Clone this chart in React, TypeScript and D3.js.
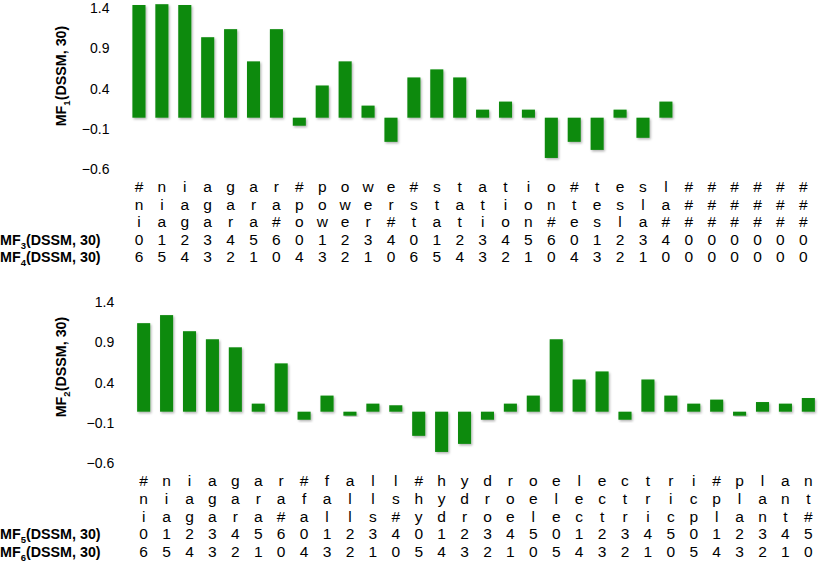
import React from 'react';
import * as d3 from 'd3';

const topTrigrams = ['#ni','nia','iag','aga','gar','ara','ra#','#po','pow','owe','wer','er#','#st','sta','tat','ati','tio','ion','on#','#te','tes','esl','sla','la#','###','###','###','###','###','###'];
const topIdxA = [0,1,2,3,4,5,6,0,1,2,3,4,0,1,2,3,4,5,6,0,1,2,3,4,0,0,0,0,0,0];
const topIdxB = [6,5,4,3,2,1,0,4,3,2,1,0,6,5,4,3,2,1,0,4,3,2,1,0,0,0,0,0,0,0];
const topValues: (number | null)[] = [1.40,1.41,1.40,1.00,1.10,0.70,1.10,-0.10,0.40,0.70,0.15,-0.30,0.50,0.60,0.50,0.10,0.20,0.10,-0.50,-0.30,-0.40,0.10,-0.25,0.20,null,null,null,null,null,null];

const bottomTrigrams = ['#ni','nia','iag','aga','gar','ara','ra#','#fa','fal','all','lls','ls#','#hy','hyd','ydr','dro','roe','oel','ele','lec','ect','ctr','tri','ric','icp','#pl','pla','lan','ant','nt#'];
const bottomIdxA = [0,1,2,3,4,5,6,0,1,2,3,4,0,1,2,3,4,5,0,1,2,3,4,5,0,1,2,3,4,5];
const bottomIdxB = [6,5,4,3,2,1,0,4,3,2,1,0,5,4,3,2,1,0,5,4,3,2,1,0,5,4,3,2,1,0];
const bottomValues: (number | null)[] = [1.10,1.20,1.00,0.90,0.80,0.10,0.60,-0.10,0.20,-0.05,0.10,0.08,-0.30,-0.50,-0.40,-0.10,0.10,0.20,0.90,0.40,0.50,-0.10,0.40,0.20,0.10,0.15,-0.05,0.12,0.10,0.17];

const yTicks = [1.4, 0.9, 0.4, -0.1, -0.6];
const yDomain: [number, number] = [-0.6, 1.4];

const FONT = '"Liberation Sans", Arial, sans-serif';
const BAR = '#0b8a0b';

function Panel({ trigrams, idxA, idxB, values, bandStart, bandEnd, yTop, yBottom, labelTop, rowGap, titleCenter, subs }: any) {
  const n = trigrams.length;
  const x = d3.scaleBand<number>().domain(d3.range(n)).range([bandStart, bandEnd]).paddingInner(0.43).paddingOuter(0.215);
  const y = d3.scaleLinear().domain(yDomain).range([yBottom, yTop]);
  const rowY = (r: number) => labelTop + r * rowGap;
  return (
    <g>
      {yTicks.map(t => (
        <text key={t} x={bandStart - 18} y={y(t) + 8} textAnchor="end" fontFamily={FONT} fontSize={14} fill="#000">{d3.format('.1f')(t)}</text>
      ))}
      <text transform={`translate(66,${titleCenter}) rotate(-90)`} textAnchor="middle" fontFamily={FONT} fontWeight={700} fontSize={14.3} fill="#000">
        MF<tspan fontSize={9.5} dy={4}>{subs[0]}</tspan><tspan dy={-4}>(DSSM, 30)</tspan>
      </text>
      {values.map((v: number | null, i: number) => v == null ? null : (
        <rect key={i} x={x(i)} width={x.bandwidth()} y={y(Math.max(0, v))} height={Math.abs(y(v) - y(0))} fill={BAR} filter="url(#shadow)" />
      ))}
      {trigrams.map((tg: string, i: number) => {
        const cx = (x(i) as number) + x.bandwidth() / 2;
        const chars = [tg[0], tg[1], tg[2], String(idxA[i]), String(idxB[i])];
        return (
          <text key={i} textAnchor="middle" fontFamily={FONT} fontSize={15.5} fill="#000">
            {chars.map((c, r) => <tspan key={r} x={cx} y={rowY(r)}>{c}</tspan>)}
          </text>
        );
      })}
      <text fontFamily={FONT} fontWeight={700} fontSize={14.3} fill="#000">
        <tspan x={0} y={rowY(3)}>MF</tspan><tspan fontSize={9.5} dy={4}>{subs[1]}</tspan><tspan dy={-4}>(DSSM, 30)</tspan>
      </text>
      <text fontFamily={FONT} fontWeight={700} fontSize={14.3} fill="#000">
        <tspan x={0} y={rowY(4)}>MF</tspan><tspan fontSize={9.5} dy={4}>{subs[2]}</tspan><tspan dy={-4}>(DSSM, 30)</tspan>
      </text>
    </g>
  );
}

export default function App() {
  return (
    <svg width={822} height={568} style={{ position: 'absolute', left: 0, top: 0, background: '#fff' }}>
      <defs>
        <filter id="shadow" x="-30%" y="-30%" width="160%" height="160%">
          <feDropShadow dx={1.2} dy={1.5} stdDeviation={1.2} floodColor="#000" floodOpacity={0.3} />
        </filter>
      </defs>
      <rect width={822} height={568} fill="#fff" />
      <Panel trigrams={topTrigrams} idxA={topIdxA} idxB={topIdxB} values={topValues}
        bandStart={127.5} bandEnd={814.8} yTop={5} yBottom={166} labelTop={192} rowGap={17.6} titleCenter={76} subs={['1', '3', '4']} />
      <Panel trigrams={bottomTrigrams} idxA={bottomIdxA} idxB={bottomIdxB} values={bottomValues}
        bandStart={132.2} bandEnd={819.8} yTop={299} yBottom={460} labelTop={486} rowGap={17.8} titleCenter={367} subs={['2', '5', '6']} />
    </svg>
  );
}
